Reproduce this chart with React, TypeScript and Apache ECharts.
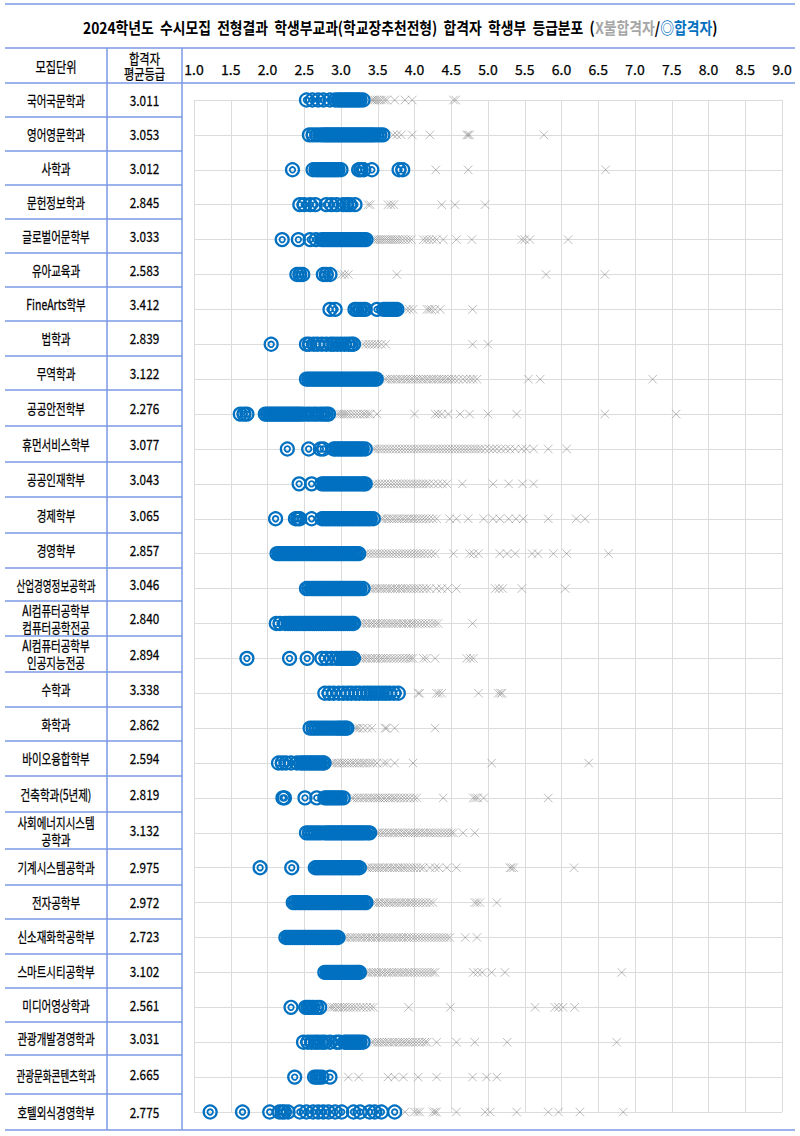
import React, { useEffect, useRef } from "react";
import * as echarts from "echarts";

const departments = [
  "국어국문학과", "영어영문학과", "사학과", "문헌정보학과", "글로벌어문학부",
  "유아교육과", "FineArts학부", "법학과", "무역학과", "공공안전학부",
  "휴먼서비스학부", "공공인재학부", "경제학부", "경영학부", "산업경영정보공학과",
  "AI컴퓨터공학부\n컴퓨터공학전공", "AI컴퓨터공학부\n인공지능전공", "수학과", "화학과", "바이오융합학부",
  "건축학과(5년제)", "사회에너지시스템\n공학과", "기계시스템공학과", "전자공학부", "신소재화학공학부",
  "스마트시티공학부", "미디어영상학과", "관광개발경영학과", "관광문화콘텐츠학과", "호텔외식경영학부",
];

const avgGrades = [
  "3.011", "3.053", "3.012", "2.845", "3.033",
  "2.583", "3.412", "2.839", "3.122", "2.276",
  "3.077", "3.043", "3.065", "2.857", "3.046",
  "2.840", "2.894", "3.338", "2.862", "2.594",
  "2.819", "3.132", "2.975", "2.972", "2.723",
  "3.102", "2.561", "3.031", "2.665", "2.775",
];

const passGrades: number[][] = [
  [2.53,2.61,2.69,2.76,2.85,2.92,2.96,2.99,3.02,3.05,3.08,3.11,3.14,3.17,3.20,3.23,3.26,3.30],
  [2.57,2.62,2.67,2.72,2.76,2.79,2.82,2.85,2.88,2.91,2.94,2.97,3.00,3.03,3.06,3.09,3.12,3.15,3.18,3.21,3.24,3.27,3.30,3.33,3.36,3.39,3.42,3.45,3.49,3.53,3.57],
  [2.34,2.62,2.66,2.69,2.72,2.75,2.78,2.81,2.84,2.87,2.90,2.93,2.96,3.00,3.24,3.27,3.31,3.42,3.79,3.84],
  [2.44,2.50,2.58,2.65,2.80,2.87,2.94,3.03,3.08,3.12,3.19],
  [2.20,2.42,2.58,2.66,2.74,2.77,2.80,2.83,2.86,2.89,2.92,2.95,2.98,3.01,3.04,3.07,3.10,3.13,3.16,3.19,3.22,3.25,3.28,3.31,3.34],
  [2.40,2.44,2.48,2.76,2.80,2.85],
  [2.85,2.92,3.19,3.22,3.26,3.30,3.33,3.49,3.58,3.61,3.64,3.67,3.70,3.73,3.76],
  [2.05,2.53,2.57,2.63,2.68,2.74,2.80,2.86,2.90,2.95,3.00,3.05,3.10,3.14,3.17],
  [2.53,2.56,2.59,2.62,2.65,2.68,2.71,2.74,2.77,2.80,2.83,2.86,2.89,2.92,2.95,2.98,3.01,3.04,3.07,3.10,3.13,3.16,3.19,3.22,3.25,3.28,3.31,3.34,3.37,3.40,3.43,3.46,3.48],
  [1.63,1.68,1.72,1.97,2.00,2.03,2.06,2.09,2.12,2.15,2.18,2.21,2.24,2.27,2.30,2.33,2.36,2.39,2.42,2.45,2.49,2.54,2.58,2.63,2.67,2.72,2.76,2.80,2.83],
  [2.27,2.56,2.72,2.76,2.90,2.93,2.96,2.99,3.02,3.05,3.08,3.11,3.14,3.17,3.20,3.23,3.26,3.29,3.33],
  [2.43,2.60,2.74,2.77,2.80,2.83,2.86,2.89,2.92,2.95,2.98,3.01,3.04,3.07,3.10,3.13,3.16,3.19,3.22,3.25,3.28,3.31,3.33],
  [2.11,2.38,2.41,2.44,2.60,2.74,2.77,2.80,2.83,2.86,2.89,2.92,2.95,2.98,3.01,3.04,3.07,3.10,3.13,3.16,3.19,3.22,3.25,3.28,3.31,3.34,3.37,3.40,3.44],
  [2.13,2.16,2.19,2.22,2.25,2.28,2.31,2.34,2.37,2.40,2.43,2.46,2.49,2.52,2.55,2.58,2.61,2.64,2.67,2.70,2.73,2.76,2.79,2.82,2.85,2.88,2.91,2.94,2.97,3.00,3.03,3.06,3.09,3.12,3.15,3.18,3.21,3.24],
  [2.53,2.56,2.60,2.63,2.66,2.69,2.72,2.75,2.78,2.81,2.84,2.87,2.90,2.93,2.96,2.99,3.02,3.05,3.08,3.11,3.14,3.17,3.20,3.23,3.26,3.30],
  [2.12,2.17,2.24,2.28,2.31,2.34,2.37,2.40,2.43,2.46,2.49,2.52,2.55,2.58,2.61,2.64,2.67,2.70,2.73,2.76,2.79,2.82,2.85,2.88,2.91,2.94,2.97,3.00,3.03,3.06,3.09,3.12,3.15,3.17],
  [1.72,2.30,2.54,2.74,2.80,2.87,2.94,2.99,3.03,3.06,3.09,3.12,3.15,3.17],
  [2.78,2.84,2.90,2.97,3.03,3.09,3.14,3.20,3.25,3.31,3.36,3.41,3.46,3.51,3.56,3.61,3.66,3.72,3.78],
  [2.58,2.62,2.66,2.70,2.74,2.78,2.82,2.86,2.90,2.94,2.97,3.00,3.03,3.06,3.08],
  [2.15,2.20,2.25,2.32,2.40,2.45,2.48,2.51,2.54,2.57,2.60,2.63,2.66,2.69,2.72,2.75,2.77],
  [2.21,2.23,2.51,2.67,2.78,2.81,2.84,2.87,2.90,2.93,2.96,2.99,3.03],
  [2.53,2.57,2.61,2.65,2.69,2.73,2.78,2.81,2.84,2.87,2.90,2.93,2.96,2.99,3.02,3.05,3.08,3.11,3.14,3.17,3.20,3.23,3.26,3.29,3.32,3.36,3.39],
  [1.90,2.33,2.65,2.68,2.71,2.74,2.77,2.80,2.83,2.86,2.89,2.92,2.95,2.98,3.01,3.04,3.07,3.10,3.13,3.16,3.19,3.22,3.25],
  [2.35,2.38,2.42,2.45,2.48,2.51,2.54,2.57,2.60,2.63,2.66,2.69,2.72,2.75,2.78,2.81,2.84,2.87,2.90,2.93,2.96,2.99,3.02,3.05,3.08,3.11,3.14,3.17,3.20,3.23,3.26,3.29,3.32,3.34],
  [2.25,2.28,2.31,2.34,2.37,2.40,2.43,2.46,2.49,2.52,2.55,2.58,2.61,2.64,2.67,2.70,2.73,2.76,2.79,2.82,2.85,2.88,2.91,2.94,2.96],
  [2.78,2.81,2.84,2.87,2.90,2.93,2.96,2.99,3.02,3.05,3.08,3.11,3.14,3.17,3.20,3.23,3.25],
  [2.32,2.52,2.55,2.58,2.62,2.67,2.71],
  [2.49,2.55,2.60,2.65,2.69,2.74,2.78,2.85,2.94,2.98,3.05,3.08,3.11,3.14,3.17,3.20,3.23,3.26,3.30],
  [2.37,2.64,2.67,2.70,2.74,2.85],
  [1.22,1.66,2.03,2.16,2.20,2.23,2.28,2.44,2.53,2.62,2.69,2.76,2.83,2.92,3.01,3.17,3.26,3.39,3.46,3.55,3.73],
];

const failGrades: number[][] = [
  [3.42,3.44,3.46,3.49,3.52,3.55,3.59,3.62,3.73,3.87,3.97,4.53,4.56],
  [3.71,3.76,3.82,3.97,4.21,4.71,4.73,4.75,5.76],
  [4.29,4.73,6.60],
  [3.37,3.40,3.64,3.68,3.72,4.37,4.55,4.96],
  [3.44,3.47,3.50,3.53,3.56,3.59,3.62,3.65,3.68,3.71,3.74,3.77,3.80,3.84,3.88,3.92,3.96,4.12,4.16,4.20,4.25,4.30,4.39,4.57,4.78,5.46,5.50,5.57,6.09],
  [3.01,3.05,3.10,3.76,5.79,6.59],
  [3.89,3.93,3.98,4.17,4.20,4.23,4.28,4.35,4.79],
  [3.30,3.34,3.38,3.42,3.46,3.50,3.55,3.61,4.79,5.00],
  [3.60,3.63,3.67,3.70,3.74,3.77,3.81,3.84,3.88,3.91,3.95,3.98,4.02,4.05,4.09,4.12,4.16,4.19,4.23,4.26,4.30,4.33,4.37,4.40,4.44,4.47,4.51,4.55,4.60,4.66,4.71,4.76,4.80,4.85,5.55,5.71,7.24],
  [2.95,2.98,3.01,3.04,3.07,3.10,3.14,3.18,3.22,3.26,3.30,3.33,3.37,3.40,3.49,4.00,4.28,4.32,4.37,4.46,4.62,4.75,5.00,5.39,6.59,7.56],
  [3.44,3.47,3.51,3.55,3.59,3.63,3.67,3.71,3.75,3.79,3.83,3.87,3.91,3.95,3.99,4.03,4.07,4.11,4.15,4.19,4.23,4.27,4.31,4.35,4.39,4.43,4.47,4.51,4.55,4.59,4.63,4.67,4.71,4.75,4.79,4.83,4.87,4.91,4.96,5.02,5.07,5.12,5.18,5.24,5.30,5.37,5.46,5.52,5.62,5.82,6.07],
  [3.44,3.48,3.52,3.56,3.60,3.64,3.68,3.72,3.76,3.80,3.84,3.88,3.92,3.96,4.00,4.04,4.08,4.12,4.16,4.20,4.26,4.32,4.38,4.44,4.65,5.07,5.28,5.47,5.62],
  [3.55,3.58,3.62,3.65,3.69,3.72,3.76,3.79,3.83,3.86,3.90,3.93,3.97,4.00,4.04,4.08,4.12,4.16,4.20,4.25,4.30,4.48,4.57,4.73,4.94,5.07,5.16,5.28,5.38,5.48,5.82,6.20,6.32],
  [3.33,3.37,3.41,3.45,3.49,3.53,3.57,3.61,3.65,3.69,3.73,3.77,3.81,3.85,3.89,3.93,3.97,4.01,4.05,4.09,4.13,4.18,4.23,4.28,4.53,4.75,4.80,4.87,5.16,5.26,5.37,5.60,5.68,5.89,6.07,6.64],
  [3.39,3.42,3.46,3.49,3.53,3.56,3.60,3.63,3.67,3.70,3.74,3.77,3.81,3.84,3.88,3.91,3.95,3.99,4.03,4.07,4.12,4.16,4.21,4.30,4.37,4.45,4.57,5.10,5.15,5.20,5.46,6.05],
  [3.26,3.29,3.33,3.36,3.40,3.43,3.47,3.50,3.54,3.57,3.61,3.64,3.68,3.71,3.75,3.78,3.82,3.85,3.89,3.92,3.96,3.99,4.03,4.07,4.11,4.15,4.19,4.24,4.28,4.32,4.79],
  [3.26,3.29,3.33,3.36,3.40,3.43,3.47,3.50,3.54,3.57,3.61,3.64,3.68,3.72,3.76,3.80,3.84,3.88,3.92,3.95,3.98,4.12,4.16,4.28,4.71,4.76,4.80],
  [4.05,4.07,4.30,4.33,4.37,4.87,5.14,5.17,5.19],
  [3.19,3.22,3.25,3.30,3.36,3.42,3.60,3.62,3.73,4.28],
  [2.87,2.90,2.94,2.97,3.01,3.04,3.08,3.11,3.15,3.18,3.22,3.25,3.29,3.32,3.36,3.40,3.44,3.49,3.58,3.62,3.73,3.98,5.05,6.37],
  [3.15,3.18,3.22,3.25,3.29,3.32,3.36,3.39,3.43,3.46,3.50,3.53,3.57,3.60,3.64,3.67,3.71,3.74,3.78,3.82,3.86,3.90,3.94,3.99,4.03,4.39,4.80,4.83,4.86,4.94,5.82],
  [3.49,3.52,3.56,3.59,3.63,3.66,3.70,3.73,3.77,3.80,3.84,3.87,3.91,3.94,3.98,4.01,4.05,4.08,4.12,4.15,4.19,4.22,4.26,4.30,4.34,4.38,4.42,4.46,4.50,4.53,4.66,4.82],
  [3.35,3.38,3.42,3.45,3.49,3.52,3.56,3.59,3.63,3.66,3.70,3.73,3.77,3.80,3.84,3.87,3.91,3.95,3.99,4.03,4.08,4.12,4.21,4.28,4.33,4.44,4.57,5.30,5.32,5.35,6.17],
  [3.44,3.47,3.51,3.54,3.58,3.61,3.65,3.68,3.72,3.75,3.79,3.82,3.86,3.89,3.93,3.96,4.00,4.04,4.08,4.12,4.16,4.21,4.25,4.82,4.85,4.89,5.12],
  [3.05,3.08,3.12,3.15,3.19,3.22,3.26,3.29,3.33,3.36,3.40,3.43,3.47,3.50,3.54,3.57,3.61,3.64,3.68,3.71,3.75,3.78,3.82,3.85,3.89,3.92,3.96,4.00,4.04,4.08,4.12,4.16,4.20,4.24,4.28,4.32,4.36,4.40,4.44,4.48,4.69,4.85],
  [3.34,3.37,3.41,3.44,3.48,3.51,3.55,3.58,3.62,3.65,3.69,3.72,3.76,3.79,3.83,3.86,3.90,3.93,3.97,4.01,4.05,4.09,4.13,4.17,4.21,4.25,4.28,4.80,4.86,4.92,5.05,5.23,6.82],
  [2.85,2.88,2.91,2.95,2.98,3.02,3.05,3.09,3.13,3.17,3.21,3.26,3.30,3.35,3.40,3.44,3.92,4.49,5.64,5.91,5.96,6.02,6.18],
  [3.42,3.45,3.49,3.52,3.56,3.59,3.63,3.66,3.70,3.73,3.77,3.80,3.84,3.87,3.91,3.94,3.98,4.02,4.06,4.10,4.14,4.17,4.30,4.57,4.82,5.26,6.75],
  [3.10,3.24,3.64,3.73,3.85,4.05,4.30,4.79,4.98,5.12],
  [3.87,4.00,4.04,4.07,4.25,4.28,4.30,4.57,4.96,5.03,5.39,5.82,5.96,6.25,6.84],
];

const gradeMin = 1;
const gradeMax = 9;
const gradeStep = 0.5;

const FONT = "'Noto Sans CJK KR', 'Noto Sans', sans-serif";
const LINE = "#7b98e4";
const BLUE = "#0070C0";

// table geometry (layout only)
const TABLE_LEFT = 5;
const TABLE_RIGHT = 795;
const COL1 = 107;
const COL2 = 182;
const TITLE_LINE = 4;
const HEAD_TOP = 48;
const rowLines = [83,117,151,185,219,253,287,321,356,390,426,462,497,533,568,601,636,672,707,741,776,812,849,885,919,954,988,1022,1055,1094,1130];

const LABEL_SIZE = 14;

function estWidth(s: string) {
  let w = 0;
  for (const ch of s) {
    if (/[가-힣]/.test(ch)) w += LABEL_SIZE;
    else if (/[A-Za-z0-9]/.test(ch)) w += LABEL_SIZE * 0.58;
    else if (/[()]/.test(ch)) w += LABEL_SIZE * 0.34;
    else w += LABEL_SIZE * 0.3;
  }
  return w;
}

export default function App() {
  const ref = useRef<HTMLDivElement>(null);
  useEffect(() => {
    document.body.style.margin = "0";
    const chart = echarts.init(ref.current!, null, { renderer: "svg" });

    const g: any[] = [];
    const hline = (y: number, x1: number, x2: number) =>
      g.push({ type: "line", silent: true, shape: { x1, y1: y, x2, y2: y }, style: { stroke: LINE, lineWidth: 1.5 } });
    const vline = (x: number, y1: number, y2: number) =>
      g.push({ type: "line", silent: true, shape: { x1: x, y1, x2: x, y2 }, style: { stroke: LINE, lineWidth: 1.5 } });
    const text = (t: string, x: number, y: number, scaleX: number, extra: any = {}) =>
      g.push({
        type: "text", silent: true, x, y, scaleX,
        style: {
          text: t, x: 0, y: 0,
          align: "center", verticalAlign: "middle",
          textAlign: "center", textVerticalAlign: "middle",
          fontSize: LABEL_SIZE, fontFamily: FONT, fill: "#000", lineHeight: 17,
          stroke: "#000", lineWidth: 0.25,
          ...extra,
        },
      });

    hline(TITLE_LINE, TABLE_LEFT, TABLE_RIGHT);
    hline(HEAD_TOP, TABLE_LEFT, TABLE_RIGHT);
    hline(rowLines[0], TABLE_LEFT, TABLE_RIGHT);
    hline(rowLines[rowLines.length - 1], TABLE_LEFT, TABLE_RIGHT);
    for (let i = 1; i < rowLines.length - 1; i++) hline(rowLines[i], TABLE_LEFT, COL2);
    vline(COL1, HEAD_TOP, rowLines[rowLines.length - 1]);
    vline(COL2, HEAD_TOP, rowLines[rowLines.length - 1]);

    text("모집단위", (TABLE_LEFT + COL1) / 2, (HEAD_TOP + rowLines[0]) / 2, 0.8);
    text("합격자\n평균등급", (COL1 + COL2) / 2, (HEAD_TOP + rowLines[0]) / 2, 0.8, { lineHeight: 15 });

    departments.forEach((d, i) => {
      const cy = (rowLines[i] + rowLines[i + 1]) / 2;
      const longest = Math.max(...d.split("\n").map(estWidth));
      const sx = Math.min(0.75, 86 / longest);
      text(d, (TABLE_LEFT + COL1) / 2, cy, sx);
      text(avgGrades[i], (COL1 + COL2) / 2, cy, 0.84);
    });

    g.push({
      type: "text", silent: true, x: 400, y: 27, scaleX: 0.865,
      style: {
        text: "{b|2024학년도  수시모집  전형결과  학생부교과(학교장추천전형)  합격자  학생부  등급분포  (}{g|X불합격자}{b|/}{c|◎합격자}{b|)}",
        x: 0, y: 0, align: "center", verticalAlign: "middle",
        textAlign: "center", textVerticalAlign: "middle",
        fontSize: 16, fontWeight: "bold", fontFamily: FONT,
        rich: {
          b: { fill: "#000", fontSize: 16, fontWeight: "bold", fontFamily: FONT },
          g: { fill: "#a6a6a6", fontSize: 16, fontWeight: "bold", fontFamily: FONT },
          c: { fill: BLUE, fontSize: 16, fontWeight: "bold", fontFamily: FONT },
        },
      },
    });

    const passData = passGrades.flatMap((arr, i) => arr.map((v) => [v, i]));
    const failData = failGrades.flatMap((arr, i) => arr.map((v) => [v, i]));

    chart.setOption({
      animation: false,
      grid: { left: 194, right: 18, top: 100, bottom: 24, containLabel: false },
      xAxis: {
        type: "value", position: "top", min: gradeMin, max: gradeMax, interval: gradeStep,
        axisLine: { show: false }, axisTick: { show: false },
        axisLabel: {
          margin: 24, fontSize: 14, fontFamily: FONT, color: "#000",
          textBorderColor: "#000", textBorderWidth: 0.25,
          formatter: (v: number) => v.toFixed(1),
        },
        splitLine: { show: true, lineStyle: { color: "#dcdcdc", width: 1 } },
      },
      yAxis: {
        type: "category", data: departments.map((_, i) => i), inverse: true, boundaryGap: false,
        axisLine: { show: false }, axisTick: { show: false }, axisLabel: { show: false },
        splitLine: { show: true, interval: 0, lineStyle: { color: "#dcdcdc", width: 1 } },
      },
      graphic: g,
      series: [
        {
          type: "scatter", name: "불합격자", data: failData, large: false, progressive: 0,
          symbol: "path://M0,0L10,10M10,0L0,10", symbolSize: 8.5, silent: true, z: 2,
          itemStyle: { color: "rgba(0,0,0,0)", borderColor: "#7a7a7a", borderWidth: 1, opacity: 0.5 },
        },
        {
          type: "scatter", name: "합격자", data: passData, large: false, progressive: 0,
          symbol: "circle", symbolSize: 13, silent: true, z: 3,
          itemStyle: { color: "rgba(0,0,0,0)", borderColor: BLUE, borderWidth: 2.2, opacity: 1 },
        },
        {
          type: "scatter", name: "합격자내부", data: passData, large: false, progressive: 0,
          symbol: "circle", symbolSize: 5.5, silent: true, z: 3,
          itemStyle: { color: "rgba(0,0,0,0)", borderColor: BLUE, borderWidth: 1.8, opacity: 1 },
        },
      ],
    });
    return () => chart.dispose();
  }, []);
  return <div ref={ref} style={{ width: 800, height: 1136 }} />;
}
